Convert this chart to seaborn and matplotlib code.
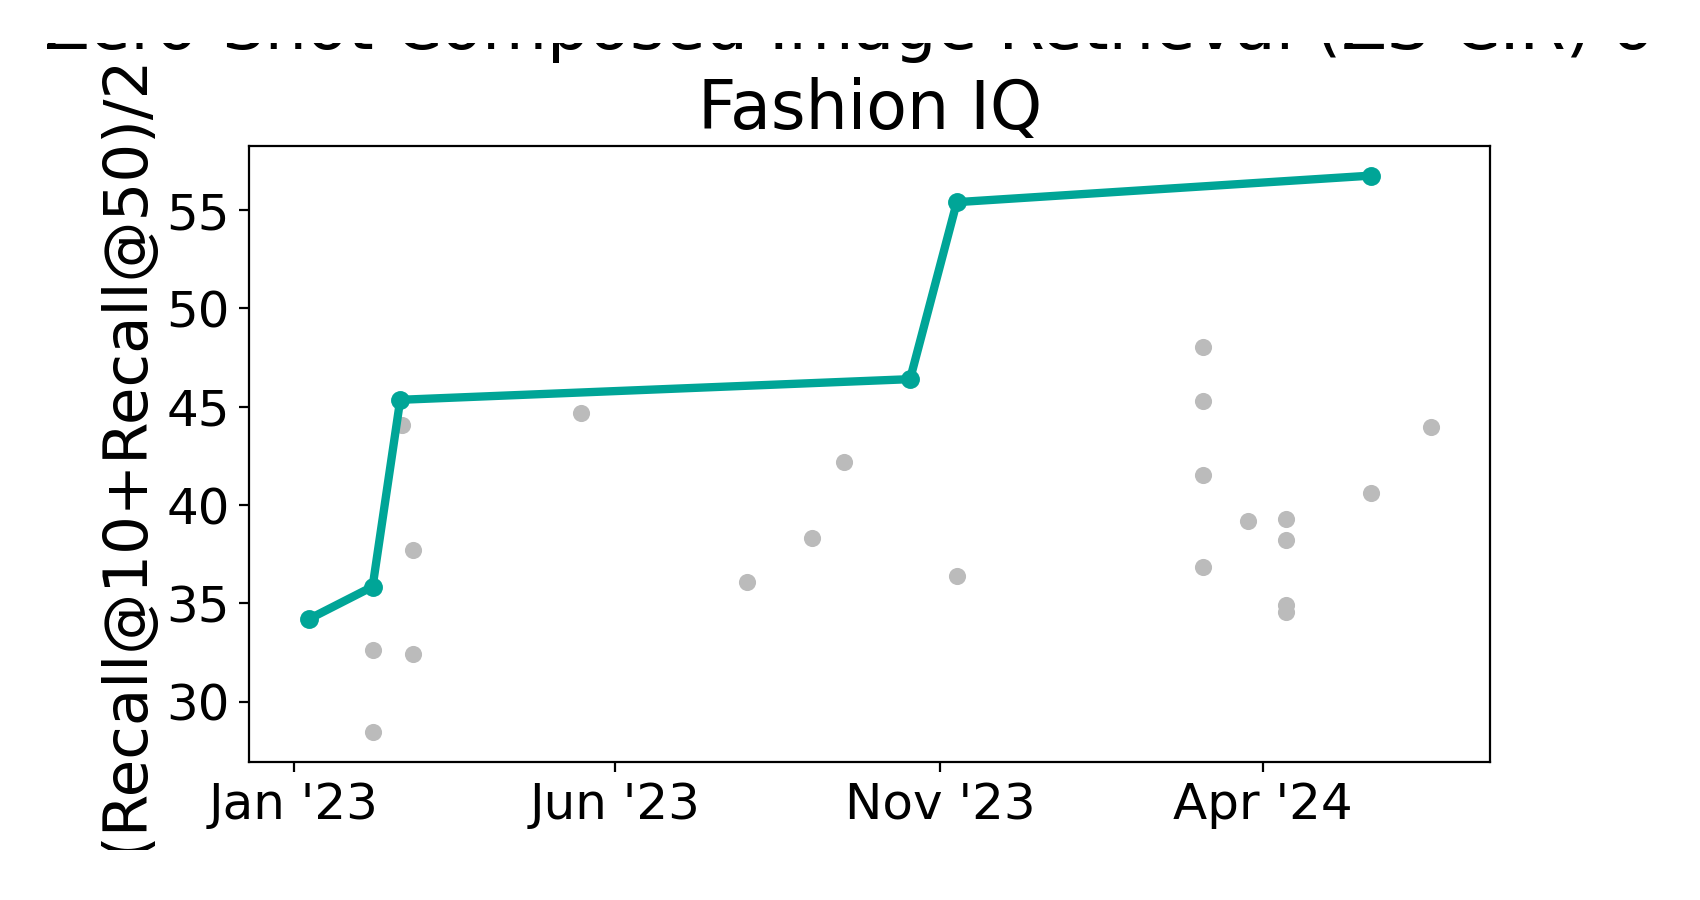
import pandas as pd
import seaborn as sns
import matplotlib.pyplot as plt
import matplotlib.dates as mdates
from matplotlib.patches import Rectangle

# state-of-the-art progression (teal line)
sota_dates = ['2023-01-08', '2023-02-07', '2023-02-20', '2023-10-18', '2023-11-09', '2024-05-22']
sota_scores = [34.2, 35.85, 45.35, 46.4, 55.4, 56.75]

# other methods (grey dots)
other_dates = ['2023-02-07', '2023-02-07', '2023-02-21', '2023-02-26', '2023-02-26',
               '2023-05-16', '2023-08-02', '2023-09-02', '2023-09-17', '2023-11-09',
               '2024-03-04', '2024-03-04', '2024-03-04', '2024-03-04', '2024-03-25',
               '2024-04-12', '2024-04-12', '2024-04-12', '2024-04-12', '2024-05-22',
               '2024-06-19']
other_scores = [32.65, 28.45, 44.05, 37.7, 32.4,
                44.7, 36.1, 38.3, 42.2, 36.4,
                48.05, 45.3, 41.55, 36.85, 39.2,
                39.3, 38.2, 34.9, 34.55, 40.6,
                43.95]

tick_dates = ['2023-01-01', '2023-06-01', '2023-11-01', '2024-04-01']
y_ticks = [30, 35, 40, 45, 50, 55]

teal = '#00A597'
grey = '#BBBBBB'

fig, ax = plt.subplots(figsize=(8.5, 4.5), dpi=200)
plt.subplots_adjust(left=0.1467, right=0.8765, bottom=0.1537, top=0.8381)

sns.scatterplot(x=pd.to_datetime(other_dates), y=other_scores, color=grey,
                s=38, linewidth=0, ax=ax, zorder=2)
sns.lineplot(x=pd.to_datetime(sota_dates), y=sota_scores, color=teal,
             linewidth=3, marker='o', markersize=6.8, markeredgewidth=0,
             estimator=None, ax=ax, zorder=3)

ax.set_xlim(pd.Timestamp('2022-12-11'), pd.Timestamp('2024-07-17'))
ax.set_ylim(26.95, 58.27)
ax.set_yticks(y_ticks)
ax.set_xticks(pd.to_datetime(tick_dates))
ax.xaxis.set_major_formatter(mdates.DateFormatter("%b '%y"))
ax.tick_params(labelsize=18)

ax.set_title('Zero-Shot Composed Image Retrieval (ZS-CIR) on\nFashion IQ',
             fontsize=24, linespacing=1.27)
ax.set_ylabel('(Recall@10+Recall@50)/2', fontsize=22)
ax.set_xlabel('')

# the reference image is cropped at the edges, hide the same strips
for x0, y0, w, h in [(0, 0.9522, 1, 0.0478), (0, 0, 1, 0.0556), (0.9706, 0, 0.0294, 1)]:
    fig.add_artist(Rectangle((x0, y0), w, h, transform=fig.transFigure,
                             facecolor='white', edgecolor='none', zorder=10))

fig.savefig('out.png', dpi=200)
